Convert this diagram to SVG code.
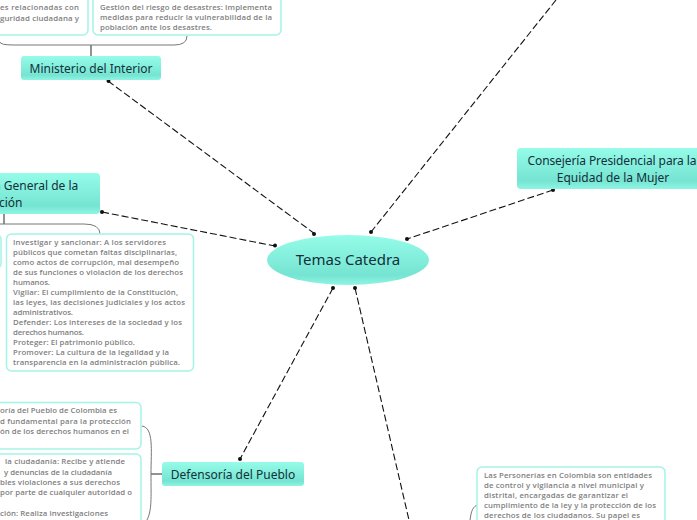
<svg xmlns="http://www.w3.org/2000/svg" width="697" height="520" viewBox="0 0 697 520">
<style>
.n{font-family:"Noto Sans","DejaVu Sans",sans-serif;font-size:12px;fill:#14303a}
.m{text-anchor:middle}
.s{font-family:"Open Sans","DejaVu Sans",sans-serif;font-size:7.8px;font-weight:600;fill:#808080}
.b{fill:#fff;stroke:#a5f3e6;stroke-width:1.5}
.c{fill:none;stroke:#111;stroke-width:1.1;stroke-dasharray:7 3}
.d{fill:#111}
.k{fill:none;stroke:#777;stroke-width:1}
.t{fill:none;stroke:#777;stroke-width:1.6}
</style>
<defs>
<linearGradient id="g" x1="0" y1="0" x2="0" y2="1">
<stop offset="0" stop-color="#95fce9"/><stop offset=".8" stop-color="#76e4d2"/><stop offset="1" stop-color="#8ff5e3"/>
</linearGradient>
</defs>
<g id="connectors">
<path class="c" d="M108 81L315 234"/><circle class="d" cx="108.500" cy="81" r="2"/><circle class="d" cx="314" cy="234" r="2"/>
<path class="c" d="M102 212L275 246"/><circle class="d" cx="102" cy="212" r="2"/><circle class="d" cx="275" cy="245.500" r="2"/>
<path class="c" d="M556 0L371 232"/><circle class="d" cx="371" cy="232" r="2"/>
<path class="c" d="M553 190L407 239"/><circle class="d" cx="553" cy="190" r="2"/><circle class="d" cx="407" cy="239" r="2"/>
<path class="c" d="M333 288L240 459"/><circle class="d" cx="333" cy="288" r="2"/><circle class="d" cx="240" cy="459" r="2"/>
<path class="c" d="M355 288L409 520"/><circle class="d" cx="355" cy="288" r="2"/>
<path class="k" d="M0 42Q0 45 14 45H174Q187 45 187 36"/><path class="t" d="M91 45V56"/>
<path class="t" d="M4 214V224"/><path class="k" d="M0 224H84Q100 224 100 234"/>
<path class="k" d="M142 426C154 428 151 450 151 474C151 498 152 510 147 520"/><path class="t" d="M151 474H162"/>
<path class="k" d="M477 505C471 508 471 515 470 520"/>
</g>
<g id="box-interior-1"><rect class="b" x="-20" y="-12" width="108" height="47" rx="5"/>
<text class="s"><tspan x="0" y="10" textLength="79">es relacionadas con</tspan><tspan x="0" y="20.500" textLength="79">guridad ciudadana y</tspan></text></g>
<g id="box-interior-2"><rect class="b" x="93" y="-12" width="188" height="47" rx="5"/>
<text class="s"><tspan x="100" y="10" textLength="172">Gestión del riesgo de desastres: Implementa</tspan><tspan x="100" y="20" textLength="172">medidas para reducir la vulnerabilidad de la</tspan><tspan x="100" y="30" textLength="112">población ante los desastres.</tspan></text></g>
<g id="ministerio"><rect x="21" y="56" width="140" height="24" rx="3" fill="url(#g)"/><text class="n m" x="91" y="73">Ministerio del Interior</text></g>
<g id="procuraduria"><rect x="-60" y="173" width="160" height="41" rx="4" fill="url(#g)"/><text class="n" x="-6" y="190">a General de la</text><text class="n" x="-1" y="207">ción</text></g>
<g id="box-stub"><rect class="b" x="-20" y="235" width="21" height="33" rx="4"/></g>
<g id="box-procuraduria"><rect class="b" x="6.500" y="234" width="187" height="137" rx="5"/>
<text class="s"><tspan x="13" y="245" textLength="153">Investigar y sancionar: A los servidores</tspan><tspan x="13" y="255" textLength="164">públicos que cometan faltas disciplinarias,</tspan><tspan x="13" y="265" textLength="166">como actos de corrupción, mal desempeño</tspan><tspan x="13" y="275" textLength="170">de sus funciones o violación de los derechos</tspan><tspan x="13" y="285" textLength="37">humanos.</tspan><tspan x="13" y="295" textLength="165">Vigilar: El cumplimiento de la Constitución,</tspan><tspan x="13" y="305" textLength="172">las leyes, las decisiones judiciales y los actos</tspan><tspan x="13" y="315" textLength="60">administrativos.</tspan><tspan x="13" y="325" textLength="169">Defender: Los intereses de la sociedad y los</tspan><tspan x="13" y="335" textLength="71">derechos humanos.</tspan><tspan x="13" y="345" textLength="122">Proteger: El patrimonio público.</tspan><tspan x="13" y="355" textLength="156">Promover: La cultura de la legalidad y la</tspan><tspan x="13" y="365" textLength="167">transparencia en la administración pública.</tspan></text></g>
<g id="temas"><ellipse cx="348" cy="260" rx="81" ry="25" fill="url(#g)"/><text class="n m" x="348" y="265" style="font-size:15px">Temas Catedra</text></g>
<g id="consejeria"><rect x="517" y="148" width="200" height="41" rx="4" fill="url(#g)"/><text class="n" x="527.500" y="165" textLength="169">Consejería Presidencial para la</text><text class="n m" x="613" y="182">Equidad de la Mujer</text></g>
<g id="defensoria"><rect x="162" y="462" width="142" height="24" rx="3" fill="url(#g)"/><text class="n m" x="233" y="479">Defensoría del Pueblo</text></g>
<g id="box-def-1"><rect class="b" x="-20" y="402.500" width="161" height="46.500" rx="5"/>
<text class="s"><tspan x="0" y="413" textLength="117">oría del Pueblo de Colombia es</tspan><tspan x="0" y="424" textLength="131">d fundamental para la protección</tspan><tspan x="0" y="434" textLength="129">ón de los derechos humanos en el</tspan></text></g>
<g id="box-def-2"><rect class="b" x="-20" y="454" width="161" height="80" rx="5"/>
<text class="s"><tspan x="5" y="464" textLength="120">la ciudadanía: Recibe y atiende</tspan><tspan x="4" y="475" textLength="108">y denuncias de la ciudadanía</tspan><tspan x="0" y="485" textLength="120">bles violaciones a sus derechos</tspan><tspan x="0" y="495" textLength="132">por parte de cualquier autoridad o</tspan><tspan x="0" y="516" textLength="108">ción: Realiza investigaciones</tspan></text></g>
<g id="box-personerias"><rect class="b" x="477" y="467" width="188" height="70" rx="5"/>
<text class="s"><tspan x="484" y="478" textLength="168">Las Personerías en Colombia son entidades</tspan><tspan x="484" y="488" textLength="160">de control y vigilancia a nivel municipal y</tspan><tspan x="484" y="498" textLength="144">distrital, encargadas de garantizar el</tspan><tspan x="484" y="508" textLength="172">cumplimiento de la ley y la protección de los</tspan><tspan x="484" y="518" textLength="156">derechos de los ciudadanos. Su papel es</tspan></text></g>
</svg>
